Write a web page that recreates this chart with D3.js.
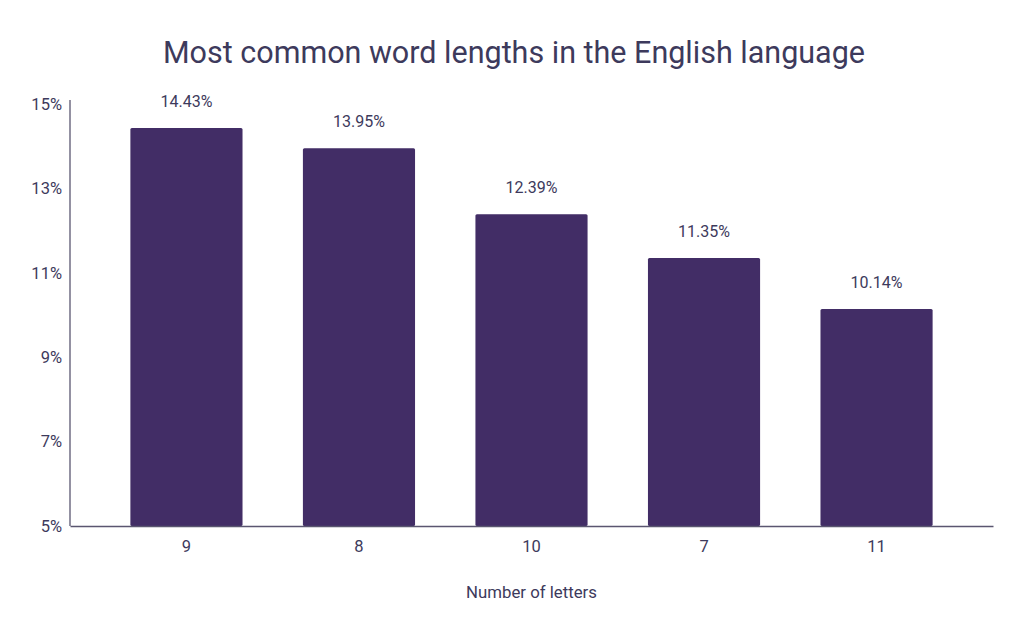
<!DOCTYPE html>
<html>
<head>
<meta charset="utf-8">
<script src="https://cdn.jsdelivr.net/npm/d3@7"></script>
<style>
  body { margin: 0; background: #fff; }
  svg { display: block; font-family: Roboto, sans-serif; }
</style>
</head>
<body>
<svg id="chart"></svg>
<script>
// word length categories and their share
const letters = ['9', '8', '10', '7', '11'];
const shares = [14.43, 13.95, 12.39, 11.35, 10.14];
const yTicks = [5, 7, 9, 11, 13, 15];

const width = 1024;
const height = 634;
const margin = { top: 104, right: 31, bottom: 108, left: 70 };
const textColor = '#3d3a5c';
const barColor = '#422d66';

const svg = d3.select('#chart').attr('width', width).attr('height', height);

//Scales
const x = d3
  .scaleBand()
  .domain(letters)
  .range([margin.left, width - margin.right])
  .paddingInner(0.35)
  .paddingOuter(0.35);

const y = d3
  .scaleLinear()
  .domain([5, 15])
  .range([height - margin.bottom, margin.top]);

//Title
svg
  .append('text')
  .attr('x', width / 2 + 2)
  .attr('y', 63)
  .attr('text-anchor', 'middle')
  .attr('font-size', 30.5)
  .attr('fill', textColor)
  .text('Most common word lengths in the English language');

//Bars
const data = letters.map((l, i) => ({ letter: l, share: shares[i] }));

svg
  .selectAll('.bar')
  .data(data)
  .enter()
  .append('rect')
  .attr('class', 'bar')
  .attr('x', (d) => x(d.letter))
  .attr('y', (d) => y(d.share))
  .attr('width', x.bandwidth())
  .attr('height', (d) => y(5) - y(d.share))
  .attr('rx', 1.5)
  .attr('fill', barColor);

//Value labels
svg
  .selectAll('.value')
  .data(data)
  .enter()
  .append('text')
  .attr('class', 'value')
  .attr('x', (d) => x(d.letter) + x.bandwidth() / 2)
  .attr('y', (d) => y(d.share) - 21)
  .attr('text-anchor', 'middle')
  .attr('font-size', 16)
  .attr('fill', textColor)
  .text((d) => d.share.toFixed(2) + '%');

//Y axis
const yAxis = svg
  .append('g')
  .attr('transform', `translate(${margin.left},0)`)
  .call(
    d3.axisLeft(y)
      .tickValues(yTicks)
      .tickSize(0)
      .tickPadding(8)
      .tickFormat((d) => d + '%')
  );
yAxis.select('.domain').attr('stroke', '#5a5670').attr('stroke-width', 1.3)
  .attr('d', `M0,${margin.top - 4}V${y(5)}`);
yAxis.selectAll('text').attr('font-size', 16.5).attr('fill', textColor)
  .attr('font-family', 'Roboto, sans-serif');

//X axis
const xAxis = svg
  .append('g')
  .attr('transform', `translate(0,${y(5)})`)
  .call(d3.axisBottom(x).tickSize(0).tickPadding(14));
xAxis.select('.domain').attr('stroke', '#5a5670').attr('stroke-width', 1.3);
xAxis.selectAll('text').attr('font-size', 16.5).attr('fill', textColor)
  .attr('font-family', 'Roboto, sans-serif');

//X axis title
svg
  .append('text')
  .attr('x', (margin.left + width - margin.right) / 2)
  .attr('y', 598)
  .attr('text-anchor', 'middle')
  .attr('font-size', 16.8)
  .attr('fill', textColor)
  .text('Number of letters');
</script>
</body>
</html>
